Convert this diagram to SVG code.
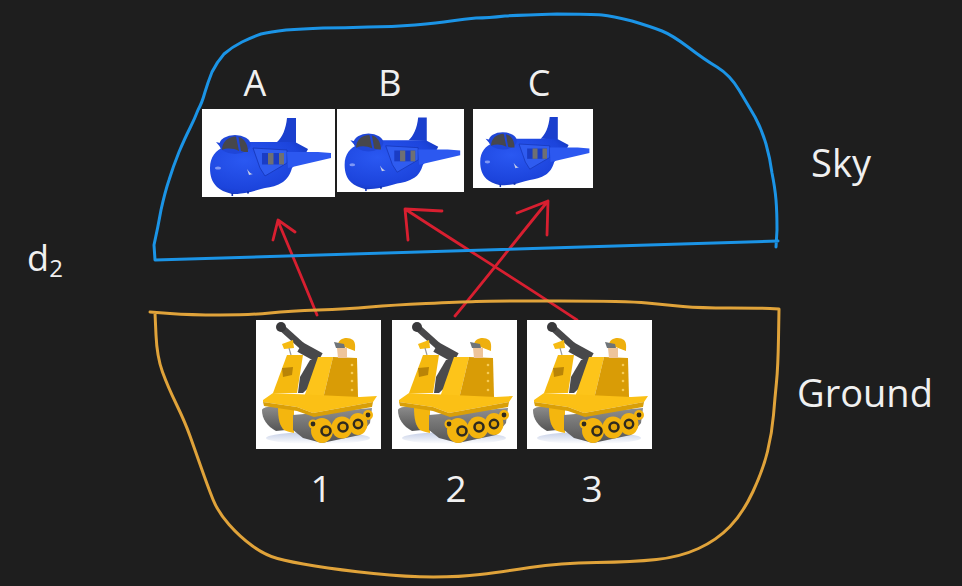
<svg xmlns="http://www.w3.org/2000/svg" width="962" height="586" viewBox="0 0 962 586">
<style>
.lbl{font-family:"Open Sans","Liberation Sans",sans-serif;fill:#f0f0f0;text-anchor:middle}
.ink{fill:none;stroke-linecap:round;stroke-linejoin:round}
.red{stroke:#d81f30;stroke-width:2.8}
</style>
<defs>
<radialGradient id="pb" cx="0.35" cy="0.35" r="0.8"><stop offset="0" stop-color="#2a58f2"/><stop offset="0.7" stop-color="#1c44dc"/><stop offset="1" stop-color="#1233b0"/></radialGradient>
<linearGradient id="tg" x1="0" y1="0" x2="0" y2="1"><stop offset="0" stop-color="#8d8d8d"/><stop offset="1" stop-color="#555"/></linearGradient>
<linearGradient id="sh" x1="0" y1="0" x2="0" y2="1"><stop offset="0" stop-color="#c4cee6"/><stop offset="1" stop-color="#fff"/></linearGradient>
<symbol id="plane" viewBox="0 0 133 88" preserveAspectRatio="none">
<rect width="133" height="88" fill="#fff"/>
<path d="M75,33 C80,29 84,20 85,9 L94,9 L94,34 Z" fill="#1a3fce"/>
<path d="M14,33 L22,35 L20,40 Z" fill="#1c44dc"/>
<path d="M8,59 C8,48 14,41 22,38 L48,33 L93,33 L106,40 L104,44 L90,59 C88,66 85,70 81,73 C75,77 69,78 63,79 C55,81 50,83 43,84 C37,85 33,85 30,85 C23,83 18,81 15,78 C10,73 8,67 8,59 Z" fill="url(#pb)"/>
<path d="M51,39 L85,41 L85,54 L63,67 L58,59 Z" fill="#2f5cf0" stroke="#1535b5" stroke-width="0.8"/>
<rect x="60" y="44" width="22" height="11.5" fill="#1a3cc4"/>
<rect x="66" y="44" width="5.5" height="11.5" fill="#6f7073"/><rect x="77" y="44" width="5" height="11.5" fill="#6f7073"/>
<path d="M85,43 L116,43 L129,44 L129,49 L86,59 Z" fill="#2c58f0"/>
<ellipse cx="33" cy="35.5" rx="15.5" ry="9.5" fill="#1f46d8"/>
<path d="M20,41 C20,33 26,27.5 34,27.5 L37,42 C31,39 25,39 20,41 Z" fill="#47474c"/>
<path d="M36.500,28 C42,29 46,35 46,43 C44,43 41,43 39,42 Z" fill="#47474c"/>
<path d="M47,66 L45,60 C47,63 49,65 51,65 Z" fill="#c9cfe6"/>
<ellipse cx="16" cy="59" rx="3" ry="1.6" fill="#7e97f5"/>
<rect x="29.500" y="84" width="1.6" height="3" fill="#1233b0"/><rect x="45" y="82" width="2" height="2.500" fill="#1233b0"/>
</symbol>
<symbol id="tank" viewBox="0 0 125 129" preserveAspectRatio="none">
<rect width="125" height="129" fill="#fff"/>
<ellipse cx="62" cy="118" rx="52" ry="6" fill="url(#sh)"/>
<path d="M6,90 C6,87 18,85 24,87 L30,110 L20,111 C11,106 6,99 6,90 Z" fill="url(#tg)"/>
<path d="M22,87 L38,89 L38,113 C33,112 30,111 28,110 C24,106 22,100 22,87 Z" fill="#f4b60e"/>
<path d="M37,95 L116,88 L114,103 L104,115 L66,123 L47,118 L37,110 Z" fill="url(#tg)"/>
<path d="M26,8 L46,26" stroke="#48484a" stroke-width="7" fill="none"/>
<path d="M44,27 L64,38" stroke="#48484a" stroke-width="11" fill="none"/>
<circle cx="25" cy="7" r="5" fill="#39393b"/>
<path d="M54,40 L66,37 L61,60 L47,73 L42,73 L44,57 Z" fill="#4b4b4d"/>
<path d="M26,24 L37,20 L38,28 L28,29 Z" fill="#f6bb12"/>
<path d="M33,28 L35,35" stroke="#999" stroke-width="1.2"/>
<path d="M31,35 L47,35 L41,73 L17,73 Z" fill="#f5b90f"/>
<path d="M26,48 L37,47 L36,55 L27,57 Z" fill="#b98407"/>
<path d="M62,37 L77,37 L67,79 L47,80 Z" fill="#fdc41a"/>
<path d="M77,37 L101,38 L102,77 L67,79 Z" fill="#d99c06"/>
<path d="M7,80 L17,73 L104,77 L121,76 L117,82 L57,93 L41,87 L7,82 Z" fill="#fbc015"/>
<path d="M7,82 L41,87 L57,93 L117,82 L116,87 L58,97 L41,91 L8,86 Z" fill="#d99f08"/>
<ellipse cx="66" cy="110.500" rx="11" ry="12.500" fill="#f4b40d"/>
<ellipse cx="86" cy="107.500" rx="10.500" ry="11" fill="#f4b40d"/>
<ellipse cx="102" cy="104" rx="9.500" ry="11" fill="#f4b40d"/>
<circle cx="112" cy="95" r="5" fill="#f4b40d"/><circle cx="112" cy="95" r="2.400" fill="#2e2a20"/>
<circle cx="57" cy="104" r="4.500" fill="#f4b40d"/><circle cx="57" cy="104" r="2.400" fill="#2e2a20"/>
<circle cx="70" cy="111" r="4.500" fill="#e3a408" stroke="#2e2a20" stroke-width="2.600"/><circle cx="87" cy="107" r="4.500" fill="#e3a408" stroke="#2e2a20" stroke-width="2.600"/><circle cx="102" cy="104" r="4.200" fill="#e3a408" stroke="#2e2a20" stroke-width="2.400"/>
<path d="M81,28 L91,28 L91,38 L82,38 Z" fill="#eec49a"/>
<path d="M82,25 C82,18 92,16 97,20 C100,23 99,28 99,31 L86,26 Z" fill="#eeaf0e"/>
<path d="M78,22 L88,24 L89,28 L80,28 Z" fill="#6f7478"/>
<circle cx="96" cy="45" r="1.300" fill="#f7cb55"/><circle cx="96" cy="53" r="1.300" fill="#f7cb55"/><circle cx="96" cy="61" r="1.300" fill="#f7cb55"/><circle cx="96" cy="70" r="1.300" fill="#f7cb55"/>
</symbol>
</defs>
<rect width="962" height="586" fill="#1e1e1e"/>
<g id="connectors">
<path class="ink red" d="M317,315 C305,285 290,250 278,221 M273,240 L278,220 L295,232"/>
<path class="ink red" d="M577,320 C520,282 460,245 405,209 M408,240 L405,209 L442,211"/>
<path class="ink red" d="M455,316 C485,280 520,235 548,201 M517,213 L548,201 L547,235"/>
</g>
<g id="regions">
<path id="sky-region" class="ink" stroke="#1b94e6" stroke-width="3" d="M155,260 L154,245 Q158,227 161,210 Q165,192 169,180 Q173,167 179,152 Q185,138 190,128 Q195,118 198,110 Q202,103 205,92 Q208,82 212,72 Q217,62 224,54 Q232,47 242,42 Q252,37 261,34 Q270,32 286,30 Q302,29 323,28 Q345,28 368,27 Q392,27 415,25 Q438,23 451,21 Q465,19 476,18 Q488,18 505,16 Q522,15 557,14 Q592,14 602,15 Q612,16 632,21 Q652,27 662,31 Q672,35 688,47 Q705,60 717,67 Q730,75 739,90 Q748,105 755,117 Q762,130 766,144 Q770,158 772,173 Q775,188 776,200 Q777,212 777,230 L776,247 M155,260 L778,241"/>
<path id="ground-region" class="ink" stroke="#e0a33a" stroke-width="3" d="M150,312 L170,313.500 Q190,315 220,315 Q250,315 270,313 Q290,311 318,310 Q347,309 370,307 Q393,305 426,303.500 Q460,302 476,301.500 Q493,301 560,301 Q627,301 647,303 Q667,305 683,306.500 Q700,308 730,308 Q760,308 770,308.500 L779,309 L778.500,338 Q778,367 776.500,382 Q775,397 773.500,415 Q772,433 767.500,451.500 Q763,470 753,491.500 Q743,513 730,526.500 Q717,540 698.500,548.500 Q680,557 656.500,559.500 Q633,562 596.500,562.500 Q560,563 530,567.500 Q500,572 480,574.500 Q460,577 433.500,577 Q407,577 373.500,573.500 Q340,570 315,566 Q290,562 277.500,558.500 Q265,555 252.500,546 Q240,537 229,524.500 Q218,512 213,499.500 Q208,487 201.500,468.500 Q195,450 190,436 Q185,422 176.500,404.500 Q168,387 162.500,372 Q157,357 156,335 L155,313"/>
</g>
<g id="plane-a"><use href="#plane" x="202" y="109" width="133" height="88"/><text class="lbl" x="255" y="96" font-size="36">A</text></g>
<g id="plane-b"><use href="#plane" x="337" y="109" width="127" height="83"/><text class="lbl" x="390" y="96" font-size="36">B</text></g>
<g id="plane-c"><use href="#plane" x="473" y="109" width="120" height="79"/><text class="lbl" x="539" y="96" font-size="36">C</text></g>
<g id="tank-1"><use href="#tank" x="256" y="320" width="125" height="129"/><text class="lbl" x="321" y="502" font-size="37">1</text></g>
<g id="tank-2"><use href="#tank" x="392" y="320" width="125" height="129"/><text class="lbl" x="456" y="502" font-size="37">2</text></g>
<g id="tank-3"><use href="#tank" x="527" y="320" width="125" height="129"/><text class="lbl" x="592" y="502" font-size="37">3</text></g>
<g id="labels">
<text class="lbl" x="841" y="177" font-size="38">Sky</text>
<text class="lbl" x="865" y="407" font-size="38">Ground</text>
<text class="lbl" x="45" y="271" font-size="36">d<tspan font-size="24" dy="6">2</tspan></text>
</g>
</svg>
